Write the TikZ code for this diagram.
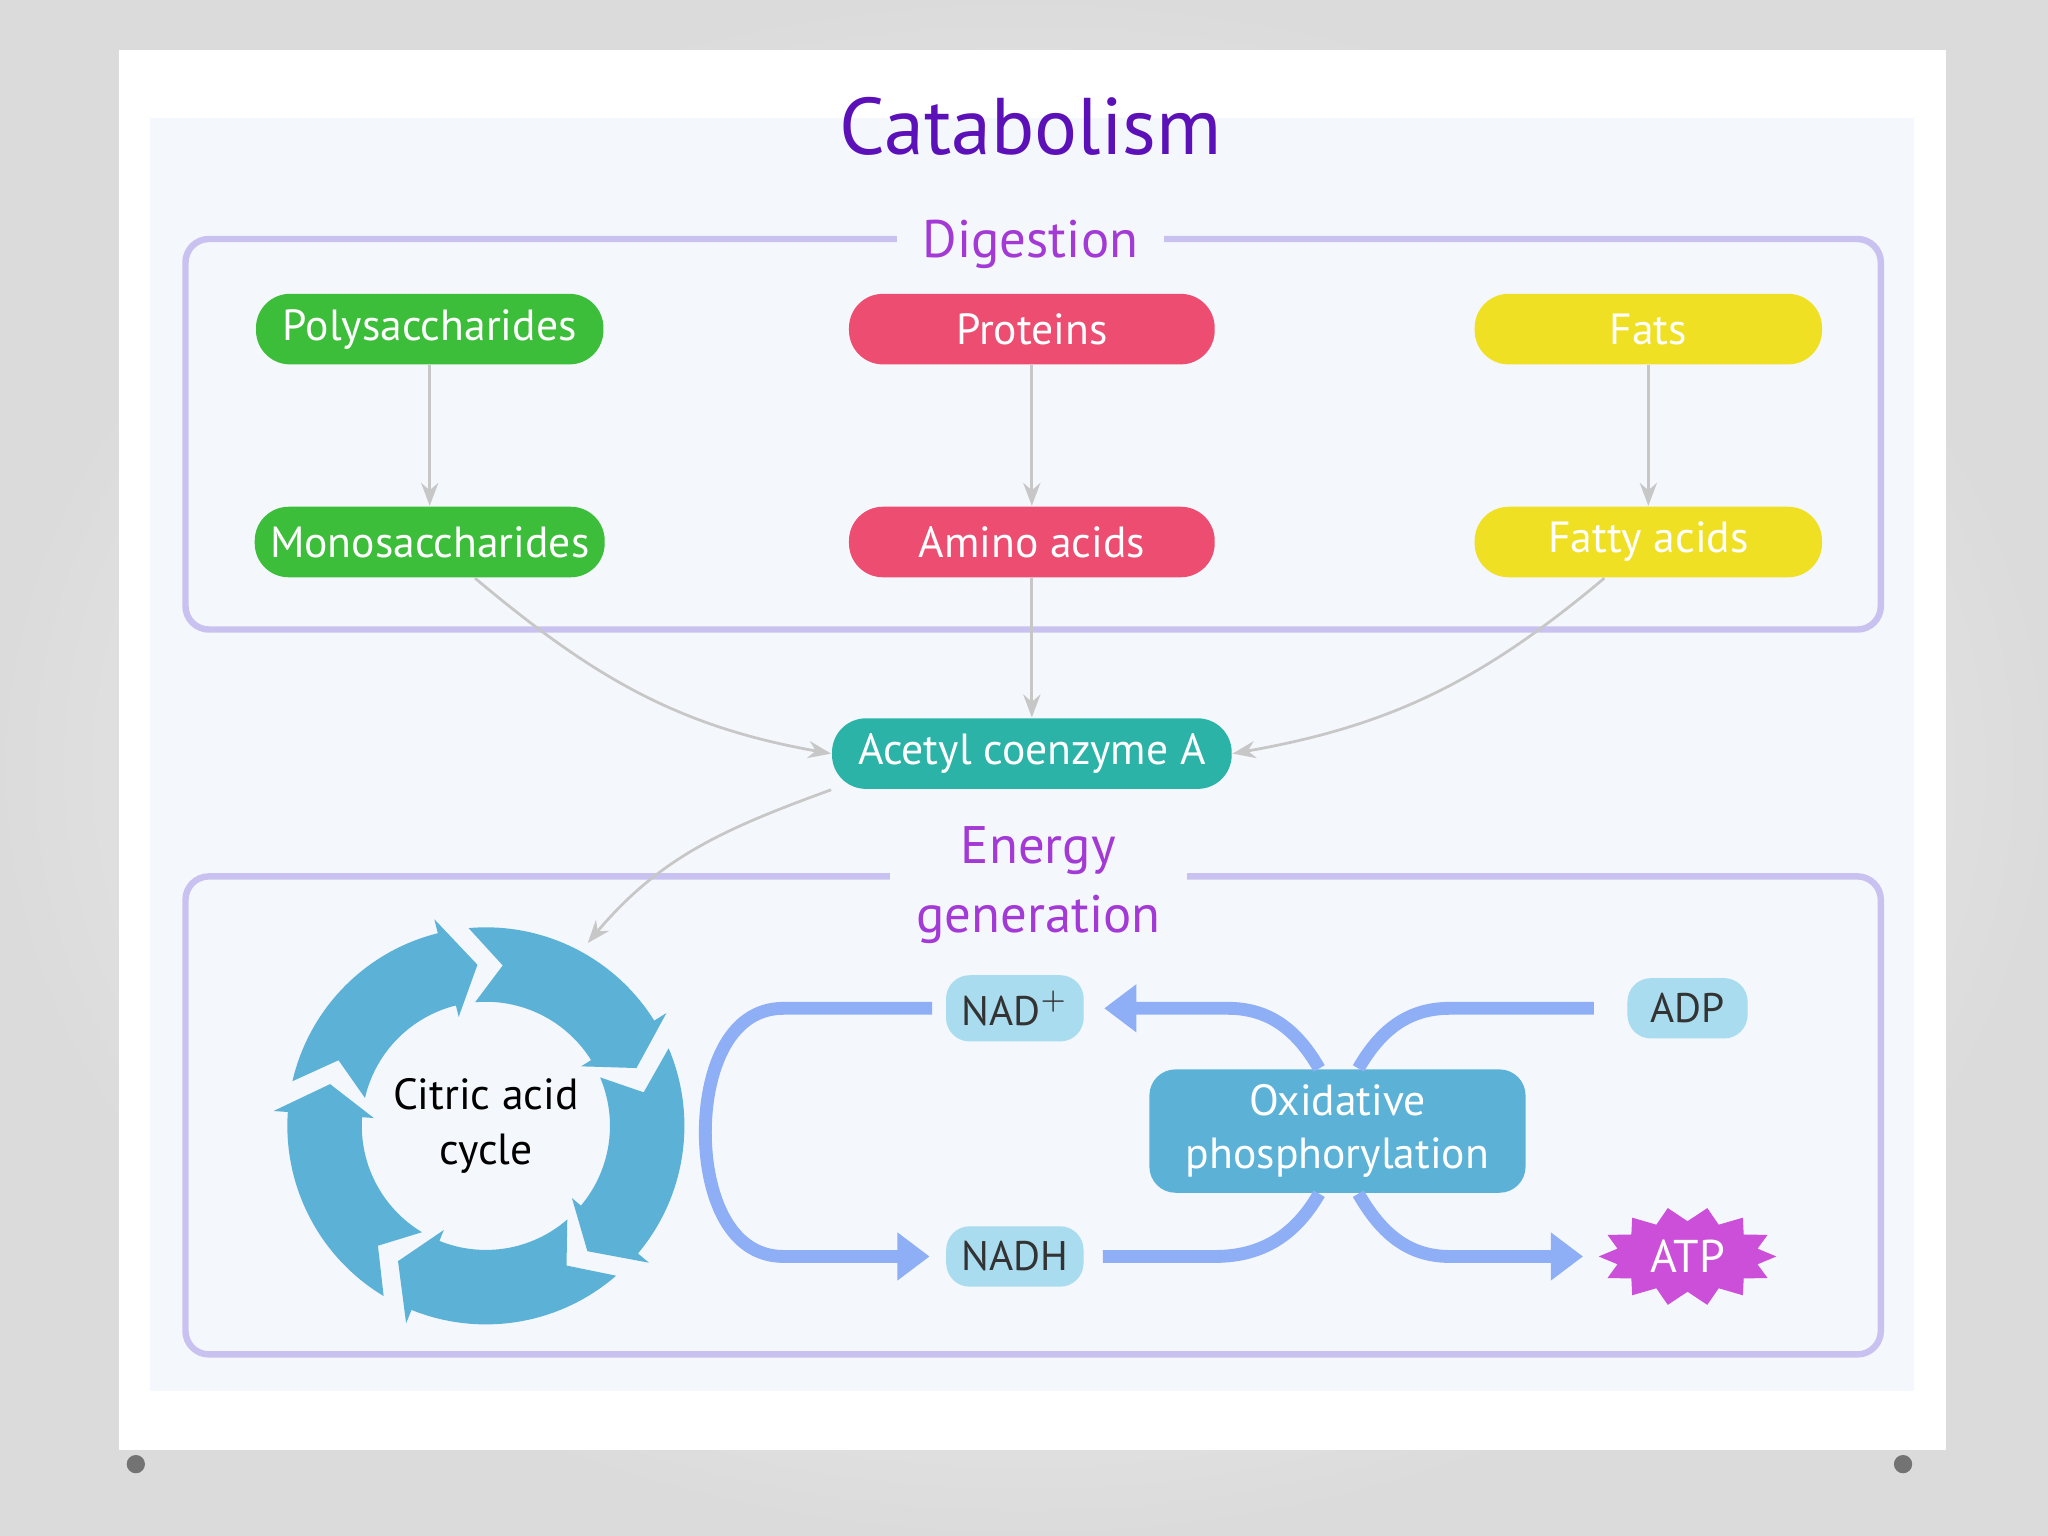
\documentclass[tikz,border=0pt]{standalone}
\usepackage{fontspec}
\setmainfont{PT Sans}
\usetikzlibrary{arrows.meta,positioning,shapes.geometric,calc}
\definecolor{titlepurple}{HTML}{5B10B8}
\definecolor{labpurple}{HTML}{A43AD6}
\definecolor{frame}{HTML}{C9C2F0}
\definecolor{panel}{HTML}{F4F7FC}
\definecolor{green1}{HTML}{3DBE3A}
\definecolor{pink1}{HTML}{EC4D70}
\definecolor{yellow1}{HTML}{F0E024}
\definecolor{teal1}{HTML}{2CB3A8}
\definecolor{cyc}{HTML}{5BB2D6}
\definecolor{pale}{HTML}{A9DCEE}
\definecolor{pipe}{HTML}{8EAEF6}
\definecolor{atp}{HTML}{CB4FD9}
\tikzset{
  pill/.style={rounded corners=0.26cm, minimum height=0.54cm, text=white,
    font=\fontsize{9.5}{11}\selectfont},
  tag/.style={rounded corners=0.18cm, fill=pale, minimum height=0.40cm,
    minimum width=0.92cm, font=\fontsize{9}{11}\selectfont, text=black!80},
  grey/.style={draw=black!22, line width=0.6pt, -{Stealth[length=5pt]}},
  box/.style={draw=frame, line width=1.4pt, rounded corners=0.18cm},
  hdr/.style={fill=panel, text=labpurple, font=\fontsize{11.5}{14}\selectfont, inner xsep=0.2cm},
  flow/.style={draw=pipe, line width=2.8pt},
  flowto/.style={flow, -{Triangle[length=7pt,width=10pt]}},
}
\begin{document}
\begin{tikzpicture}
  \useasboundingbox (0,0) rectangle (15.68,11.76);

  % slide
  \shade[inner color=white, outer color=black!14] (0,0) rectangle (15.68,11.76);
  \fill[white] (0.91,0.66) rectangle (14.90,11.38);
  \fill[panel] (1.15,1.11) rectangle (14.65,10.86);
  \fill[black!55] (1.04,0.55) circle (0.07) (14.57,0.55) circle (0.07);

  \node[text=titlepurple, font=\fontsize{17.5}{21}\selectfont] (title) at (7.89,10.79) {Catabolism};

  % digestion
  \draw[box] (1.42,6.94) rectangle (14.40,9.93);
  \node[hdr] (dig) at (7.89,9.89) {Digestion};

  \node[pill, fill=green1, minimum width=2.66cm] (poly) at (3.29,9.24) {Polysaccharides};
  \node[pill, fill=pink1, minimum width=2.80cm] (prot) at (7.90,9.24) {Proteins};
  \node[pill, fill=yellow1, minimum width=2.66cm] (fats) at (12.62,9.24) {Fats};
  \node[pill, fill=green1, minimum width=2.66cm] (mono) at (3.29,7.61) {Monosaccharides};
  \node[pill, fill=pink1, minimum width=2.80cm] (amino) at (7.90,7.61) {Amino acids};
  \node[pill, fill=yellow1, minimum width=2.66cm] (fatty) at (12.62,7.61) {Fatty acids};
  \node[pill, fill=teal1, minimum width=3.06cm] (acetyl) at (7.90,5.99) {Acetyl coenzyme A};

  \draw[grey] (poly) -- (mono);
  \draw[grey] (prot) -- (amino);
  \draw[grey] (fats) -- (fatty);
  \draw[grey] (amino) -- (acetyl);
  \draw[grey] ([xshift=-1.0cm]mono.south east) to[out=-40,in=170] (acetyl.west);
  \draw[grey] ([xshift=1.0cm]fatty.south west) to[out=-140,in=10] (acetyl.east);

  % energy generation
  \draw[box] (1.42,1.39) rectangle (14.40,5.05);
  \node[hdr, align=center, font=\fontsize{11.5}{15}\selectfont] (energy) at (7.95,4.98) {Energy\\generation};

  \coordinate (cc) at (3.72,3.14);
  \foreach \s in {95,23,-49,-121,-193} {
    \fill[cyc] ($(cc)+(\s:1.52)$) arc[start angle=\s, end angle=\s-63, radius=1.52]
      -- ($(cc)+(\s-63:1.63)$) -- ($(cc)+(\s-74:1.235)$) -- ($(cc)+(\s-63:0.86)$)
      -- ($(cc)+(\s-63:0.95)$) arc[start angle=\s-63, end angle=\s, radius=0.95]
      -- ($(cc)+(\s-11:1.235)$) -- cycle;
  }
  \node[align=center, font=\fontsize{9.5}{12}\selectfont] (citric) at (cc) {Citric acid\\cycle};
  \draw[grey] (acetyl.south west) to[out=200,in=50] (4.50,4.54);

  \node[tag] (nad) at (7.77,4.04) {NAD$^{+}$};
  \node[tag] (nadh) at (7.77,2.14) {NADH};
  \node[tag] (adp) at (12.92,4.04) {ADP};
  \node[rounded corners=0.2cm, fill=cyc, minimum width=2.88cm, minimum height=0.88cm,
    align=center, text=white, font=\fontsize{9.5}{11.5}\selectfont] (oxphos) at (10.24,3.10)
    {Oxidative\\phosphorylation};
  \coordinate (star) at (12.92,2.14);
  \fill[atp] ($(star)+(0:0.68 and 0.38)$)
    \foreach \i in {1,...,27} {
      -- ($(star)+({\i*360/28}:{0.68-0.13*mod(\i,2)} and {0.38-0.11*mod(\i,2)})$) } -- cycle;
  \node[text=white, font=\fontsize{10}{12}\selectfont] (atpn) at (star) {ATP};

  \draw[flowto] ([xshift=-0.1cm]nad.west) -- (6.00,4.04) to[out=180,in=90] (5.40,3.09)
    to[out=-90,in=180] (6.00,2.14) -- ([xshift=-0.12cm]nadh.west);
  \draw[flowto] ([xshift=-0.14cm]oxphos.north) to[out=120,in=0] (9.40,4.04)
    -- ([xshift=0.15cm]nad.east);
  \draw[flow] ([xshift=0.16cm]oxphos.north) to[out=60,in=180] (11.10,4.04)
    -- ([xshift=-0.25cm]adp.west);
  \draw[flow] ([xshift=0.14cm]nadh.east) -- (9.30,2.14) to[out=0,in=-120]
    ([xshift=-0.14cm]oxphos.south);
  \draw[flowto] ([xshift=0.16cm]oxphos.south) to[out=-60,in=180] (11.10,2.14)
    -- (12.12,2.14);
\end{tikzpicture}
\end{document}
